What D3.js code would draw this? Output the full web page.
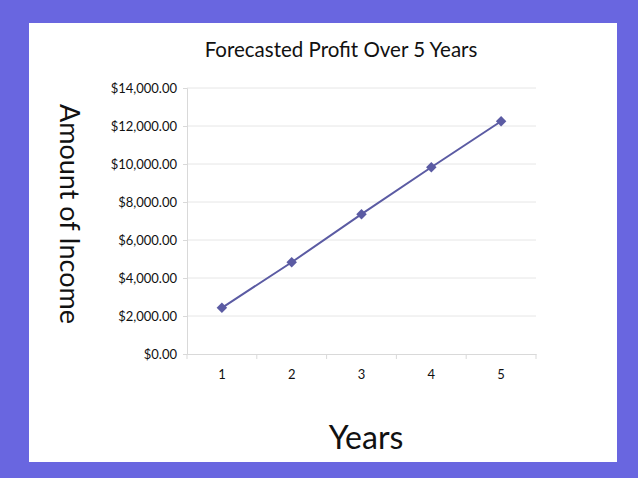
<!DOCTYPE html>
<html><head><meta charset="utf-8">
<script src="https://cdn.jsdelivr.net/npm/d3@7"></script>
<style>html,body{margin:0;padding:0;background:#6966e0;}svg{display:block;}</style>
</head><body>
<script>
const years = ["1","2","3","4","5"];
const profit = [2430, 4830, 7360, 9830, 12250];
const yTicks = [0,2000,4000,6000,8000,10000,12000,14000];
const title = "Forecasted Profit Over 5 Years";
const xTitle = "Years";
const yTitle = "Amount of Income";

(function(){
const W=638,H=478;
const svg=d3.select("body").append("svg").attr("width",W).attr("height",H);
svg.append("rect").attr("width",W).attr("height",H).attr("fill","#6966e0");
svg.append("rect").attr("x",29).attr("y",23).attr("width",588).attr("height",439).attr("fill","#fff");

const pl=187,pr=536,pt=88,pb=354;
const x=d3.scaleBand().domain(years).range([pl,pr]);
const y=d3.scaleLinear().domain([0,14000]).range([pb,pt]);
const font="Lato, 'Open Sans', sans-serif";

svg.append("g").selectAll("line").data(yTicks.slice(1)).join("line")
  .attr("x1",pl).attr("x2",pr).attr("y1",d=>y(d)).attr("y2",d=>y(d))
  .attr("stroke","#e6e6e6").attr("stroke-width",1);

const fmt=d=>"$"+d3.format(",.2f")(d);
const ya=svg.append("g").attr("transform",`translate(${pl},0)`)
  .call(d3.axisLeft(y).tickValues(yTicks).tickFormat(fmt).tickSize(4).tickPadding(6));
ya.select(".domain").attr("stroke","#d9d9d9");
ya.selectAll(".tick line").attr("stroke","#d9d9d9");
ya.selectAll("text").attr("font-family",font).attr("font-size",13).attr("fill","#111");

const xa=svg.append("g").attr("transform",`translate(0,${pb})`)
  .call(d3.axisBottom(x).tickSize(0).tickPadding(16));
xa.select(".domain").attr("stroke","#d9d9d9");
xa.selectAll("text").attr("font-family",font).attr("font-size",13).attr("fill","#111");
const bounds=years.map(d=>x(d)).concat([pr]);
svg.append("g").selectAll("line").data(bounds).join("line")
  .attr("x1",d=>d).attr("x2",d=>d)
  .attr("y1",pb).attr("y2",pb+5).attr("stroke","#d9d9d9");

const cx=i=>x(years[i])+x.bandwidth()/2;
const line=d3.line().x((d,i)=>cx(i)).y(d=>y(d));
svg.append("path").datum(profit).attr("d",line).attr("fill","none")
  .attr("stroke","#5b5ba3").attr("stroke-width",2);
svg.append("g").selectAll("path").data(profit).join("path")
  .attr("d",d3.symbol(d3.symbolSquare,55)())
  .attr("transform",(d,i)=>`translate(${cx(i)},${y(d)}) rotate(45)`)
  .attr("fill","#5b5ba3");

svg.append("text").attr("x",341).attr("y",57).attr("text-anchor","middle")
  .attr("font-family",font).attr("font-size",20.5).attr("fill","#111").text(title);
svg.append("text").attr("x",366).attr("y",449).attr("text-anchor","middle")
  .attr("font-family",font).attr("font-size",32).attr("fill","#111").text(xTitle);
svg.append("text").attr("transform","translate(60,214) rotate(90)").attr("text-anchor","middle")
  .attr("font-family",font).attr("font-size",27).attr("fill","#111").text(yTitle);
})();
</script>
</body></html>
